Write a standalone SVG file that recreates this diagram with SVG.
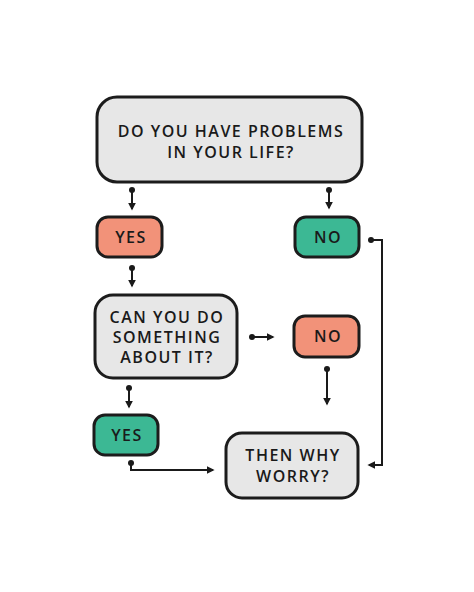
<svg xmlns="http://www.w3.org/2000/svg" width="474" height="592" viewBox="0 0 474 592">
<defs>
<marker id="ah" viewBox="0 0 10 10" refX="8" refY="5" markerWidth="4" markerHeight="4" orient="auto" markerUnits="strokeWidth"><path d="M0,0 L10,5 L0,10 z" fill="#1a1a1a"/></marker>
<marker id="dot" viewBox="0 0 10 10" refX="5" refY="5" markerWidth="3" markerHeight="3" markerUnits="strokeWidth"><circle cx="5" cy="5" r="5" fill="#1a1a1a"/></marker>
</defs>
<style>
.box{stroke:#1c1c1c;stroke-width:3}
.q{fill:#e7e7e7}
.or{fill:#f29279}
.gr{fill:#3cb894}
text{font-family:"Open Sans","DejaVu Sans",sans-serif;font-weight:600;font-size:16px;letter-spacing:1.5px;fill:#1a1a1a;text-anchor:middle}
.c{fill:none;stroke:#1a1a1a;stroke-width:2;marker-start:url(#dot);marker-end:url(#ah)}
</style>
<rect width="474" height="592" fill="#ffffff"/>
<g id="q1"><rect class="box q" x="97" y="97" width="265" height="85" rx="20"/><text x="231" y="137">DO YOU HAVE PROBLEMS</text><text x="231" y="157.5">IN YOUR LIFE?</text></g>
<g id="yes1"><rect class="box or" x="97" y="217" width="65" height="40" rx="11"/><text x="131" y="243">YES</text></g>
<g id="no1"><rect class="box gr" x="295" y="217" width="64" height="40" rx="11"/><text x="328" y="243">NO</text></g>
<g id="q2"><rect class="box q" x="95" y="295" width="142" height="83" rx="18"/><text x="167" y="323">CAN YOU DO</text><text x="167" y="343">SOMETHING</text><text x="167" y="363">ABOUT IT?</text></g>
<g id="no2"><rect class="box or" x="294" y="316" width="65" height="41" rx="11"/><text x="328" y="342">NO</text></g>
<g id="yes2"><rect class="box gr" x="94" y="415" width="64" height="40" rx="11"/><text x="127" y="441">YES</text></g>
<g id="q3"><rect class="box q" x="226" y="433" width="132" height="65" rx="16"/><text x="293" y="461">THEN WHY</text><text x="293" y="481.5">WORRY?</text></g>
<g id="connectors">
<path class="c" d="M132,190 V209"/>
<path class="c" d="M329,190 V208"/>
<path class="c" d="M132,268 V286"/>
<path class="c" d="M252,337 H273"/>
<path class="c" d="M327,369 V404"/>
<path class="c" d="M129,388 V407"/>
<path class="c" d="M131,463 V470 H213"/>
<path class="c" d="M371,240 H382 V465 H369"/>
</g>
</svg>
